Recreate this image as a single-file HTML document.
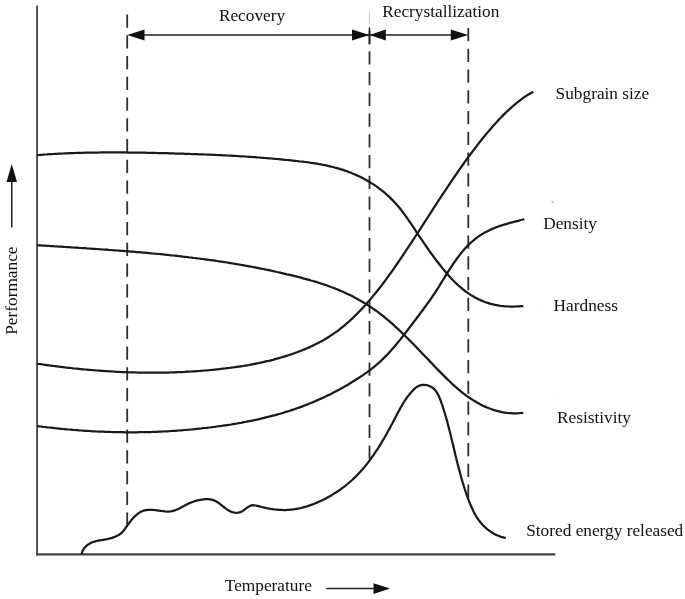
<!DOCTYPE html>
<html><head><meta charset="utf-8">
<style>
html,body{margin:0;padding:0;background:#fff;}
svg{display:block;}
text{font-family:"Liberation Serif",serif;font-size:17.3px;fill:#111;}
.ax{stroke:#3c3c3c;stroke-width:1.6;fill:none;}
.cv{stroke:#1a1a1a;stroke-width:2.25;fill:none;stroke-linecap:butt;stroke-linejoin:round;}
.ds{stroke:#2e2e2e;stroke-width:1.8;fill:none;stroke-dasharray:13.25 7.5;}
.ar{stroke:#222;stroke-width:1.5;fill:none;}
.hd{fill:#111;stroke:none;}
</style></head>
<body>
<svg width="685" height="599" viewBox="0 0 685 599">
<rect width="685" height="599" fill="#fff"/>
<!-- axes -->
<path d="M37.050 5.500V555.500" stroke="#3c3c3c" stroke-width="1.7" fill="none"/>
<path d="M36.200 554.400H555.300" stroke="#404040" stroke-width="2.3" fill="none"/>
<!-- dashed guide lines -->
<path class="ds" d="M127.200 14.500V526.500"/>
<path class="ds" d="M369.500 30.500V460"/>
<path class="ds" d="M468.300 28V499"/>
<path d="M369.500 11.500V24" stroke="#cfcfcf" stroke-width="1.2" fill="none"/>
<path class="ar" d="M369.500 27.500V44.500"/>
<!-- range arrows -->
<path class="ar" d="M140 35H455"/>
<path class="hd" d="M127.200 35L144.500 29.500V40.500Z"/>
<path class="hd" d="M369.500 35L352 29.500V40.500Z"/>
<path class="hd" d="M369.500 35L385.800 29.500V40.500Z"/>
<path class="hd" d="M468.300 35L450.800 29.500V40.500Z"/>
<!-- curves -->
<path class="cv" d="M37.0 155.1L39.0 155.0L41.0 154.8L43.0 154.7L45.0 154.5L47.0 154.4L49.0 154.2L51.0 154.1L53.0 154.0L55.0 153.9L57.0 153.8L59.0 153.7L61.0 153.6L63.0 153.5L65.0 153.4L67.0 153.3L69.0 153.2L71.0 153.1L73.0 153.1L75.0 153.0L77.0 152.9L79.0 152.9L81.0 152.8L83.0 152.8L85.0 152.7L87.0 152.7L89.0 152.6L91.0 152.6L93.0 152.5L95.0 152.5L97.0 152.5L99.0 152.5L101.0 152.4L103.0 152.4L105.0 152.4L107.0 152.4L109.0 152.4L111.0 152.4L113.0 152.4L115.0 152.4L117.0 152.4L119.0 152.4L121.0 152.4L123.0 152.4L125.0 152.4L127.0 152.5L129.0 152.5L131.0 152.5L133.0 152.5L135.0 152.6L137.0 152.6L139.0 152.6L141.0 152.7L143.0 152.7L145.0 152.7L147.0 152.8L149.0 152.8L151.0 152.8L153.0 152.9L155.0 152.9L157.0 153.0L159.0 153.0L161.0 153.1L163.0 153.1L165.0 153.2L167.0 153.2L169.0 153.3L171.0 153.4L173.0 153.4L175.0 153.5L177.0 153.5L179.0 153.6L181.0 153.7L183.0 153.7L185.0 153.8L187.0 153.8L189.0 153.9L191.0 154.0L193.0 154.0L195.0 154.1L197.0 154.2L199.0 154.3L201.0 154.3L203.0 154.4L205.0 154.5L207.0 154.6L209.0 154.7L211.0 154.7L213.0 154.8L215.0 154.9L217.0 155.0L219.0 155.1L221.0 155.2L223.0 155.3L225.0 155.4L227.0 155.5L229.0 155.6L231.0 155.7L233.0 155.8L235.0 155.9L237.0 156.0L239.0 156.2L241.0 156.3L243.0 156.4L245.0 156.5L247.0 156.7L249.0 156.8L251.0 156.9L253.0 157.1L255.0 157.2L257.0 157.4L259.0 157.5L261.0 157.7L263.0 157.8L265.0 158.0L267.0 158.1L269.0 158.3L271.0 158.5L273.0 158.7L275.0 158.8L277.0 159.0L279.0 159.2L281.0 159.4L283.0 159.6L285.0 159.8L287.0 160.0L289.0 160.2L291.0 160.4L293.0 160.6L295.0 160.8L297.0 161.0L299.0 161.3L301.0 161.5L303.0 161.7L305.0 162.0L307.0 162.2L309.0 162.5L311.0 162.8L313.0 163.1L315.0 163.4L317.0 163.7L319.0 164.1L321.0 164.4L323.0 164.8L325.0 165.2L327.0 165.6L329.0 166.1L331.0 166.6L333.0 167.0L335.0 167.6L337.0 168.1L339.0 168.7L341.0 169.3L343.0 169.9L345.0 170.6L347.0 171.3L349.0 172.1L351.0 172.8L353.0 173.7L355.0 174.5L357.0 175.4L359.0 176.3L361.0 177.3L363.0 178.3L365.0 179.4L367.0 180.5L369.0 181.7L371.0 182.9L373.0 184.1L375.0 185.4L377.0 186.8L379.0 188.3L381.0 189.8L383.0 191.4L385.0 193.0L387.0 194.8L389.0 196.6L391.0 198.6L393.0 200.6L395.0 202.7L397.0 205.0L399.0 207.3L401.0 209.8L403.0 212.4L405.0 215.1L407.0 217.9L409.0 220.8L411.0 223.7L413.0 226.7L415.0 229.7L417.0 232.8L419.0 235.8L421.0 238.7L423.0 241.7L425.0 244.6L427.0 247.5L429.0 250.3L431.0 253.1L433.0 255.9L435.0 258.6L437.0 261.2L439.0 263.8L441.0 266.4L443.0 268.9L445.0 271.3L447.0 273.6L449.0 275.9L451.0 278.1L453.0 280.2L455.0 282.2L457.0 284.1L459.0 286.0L461.0 287.7L463.0 289.4L465.0 291.0L467.0 292.4L469.0 293.8L471.0 295.1L473.0 296.3L475.0 297.5L477.0 298.5L479.0 299.5L481.0 300.4L483.0 301.3L485.0 302.0L487.0 302.7L489.0 303.3L491.0 303.9L493.0 304.4L495.0 304.9L497.0 305.2L499.0 305.6L501.0 305.9L503.0 306.1L505.0 306.3L507.0 306.4L509.0 306.5L511.0 306.5L513.0 306.5L515.0 306.5L517.0 306.4L519.0 306.4L521.0 306.2L523.0 306.1L523.3 306.0"/>
<path class="cv" d="M37.0 245.2L39.0 245.3L41.0 245.4L43.0 245.6L45.0 245.7L47.0 245.8L49.0 245.9L51.0 246.1L53.0 246.2L55.0 246.3L57.0 246.4L59.0 246.6L61.0 246.7L63.0 246.8L65.0 247.0L67.0 247.1L69.0 247.2L71.0 247.3L73.0 247.5L75.0 247.6L77.0 247.7L79.0 247.9L81.0 248.0L83.0 248.1L85.0 248.2L87.0 248.4L89.0 248.5L91.0 248.6L93.0 248.8L95.0 248.9L97.0 249.0L99.0 249.2L101.0 249.3L103.0 249.5L105.0 249.6L107.0 249.7L109.0 249.9L111.0 250.0L113.0 250.2L115.0 250.3L117.0 250.5L119.0 250.6L121.0 250.8L123.0 250.9L125.0 251.1L127.0 251.2L129.0 251.4L131.0 251.6L133.0 251.7L135.0 251.9L137.0 252.1L139.0 252.2L141.0 252.4L143.0 252.6L145.0 252.7L147.0 252.9L149.0 253.1L151.0 253.3L153.0 253.5L155.0 253.7L157.0 253.8L159.0 254.0L161.0 254.2L163.0 254.4L165.0 254.6L167.0 254.8L169.0 255.0L171.0 255.3L173.0 255.5L175.0 255.7L177.0 255.9L179.0 256.1L181.0 256.3L183.0 256.6L185.0 256.8L187.0 257.0L189.0 257.3L191.0 257.5L193.0 257.8L195.0 258.0L197.0 258.3L199.0 258.5L201.0 258.8L203.0 259.0L205.0 259.3L207.0 259.6L209.0 259.9L211.0 260.1L213.0 260.4L215.0 260.7L217.0 261.0L219.0 261.3L221.0 261.6L223.0 261.9L225.0 262.2L227.0 262.5L229.0 262.8L231.0 263.2L233.0 263.5L235.0 263.8L237.0 264.2L239.0 264.5L241.0 264.9L243.0 265.2L245.0 265.6L247.0 265.9L249.0 266.3L251.0 266.7L253.0 267.0L255.0 267.4L257.0 267.8L259.0 268.2L261.0 268.6L263.0 269.0L265.0 269.4L267.0 269.8L269.0 270.2L271.0 270.7L273.0 271.1L275.0 271.5L277.0 272.0L279.0 272.4L281.0 272.9L283.0 273.3L285.0 273.8L287.0 274.3L289.0 274.7L291.0 275.2L293.0 275.7L295.0 276.2L297.0 276.7L299.0 277.2L301.0 277.7L303.0 278.3L305.0 278.8L307.0 279.3L309.0 279.9L311.0 280.5L313.0 281.0L315.0 281.6L317.0 282.2L319.0 282.9L321.0 283.5L323.0 284.2L325.0 284.8L327.0 285.5L329.0 286.2L331.0 287.0L333.0 287.7L335.0 288.5L337.0 289.3L339.0 290.1L341.0 291.0L343.0 291.8L345.0 292.7L347.0 293.7L349.0 294.6L351.0 295.6L353.0 296.6L355.0 297.7L357.0 298.7L359.0 299.9L361.0 301.0L363.0 302.2L365.0 303.4L367.0 304.6L369.0 305.9L371.0 307.2L373.0 308.6L375.0 310.0L377.0 311.4L379.0 312.9L381.0 314.4L383.0 316.0L385.0 317.6L387.0 319.3L389.0 320.9L391.0 322.7L393.0 324.4L395.0 326.3L397.0 328.1L399.0 330.0L401.0 331.9L403.0 333.8L405.0 335.8L407.0 337.7L409.0 339.7L411.0 341.8L413.0 343.8L415.0 345.8L417.0 347.9L419.0 350.0L421.0 352.1L423.0 354.2L425.0 356.3L427.0 358.3L429.0 360.4L431.0 362.5L433.0 364.6L435.0 366.7L437.0 368.8L439.0 370.9L441.0 372.9L443.0 374.9L445.0 376.9L447.0 378.9L449.0 380.8L451.0 382.7L453.0 384.6L455.0 386.4L457.0 388.1L459.0 389.8L461.0 391.5L463.0 393.1L465.0 394.6L467.0 396.1L469.0 397.5L471.0 398.8L473.0 400.1L475.0 401.3L477.0 402.5L479.0 403.6L481.0 404.7L483.0 405.7L485.0 406.6L487.0 407.5L489.0 408.3L491.0 409.0L493.0 409.7L495.0 410.4L497.0 410.9L499.0 411.4L501.0 411.9L503.0 412.3L505.0 412.6L507.0 412.9L509.0 413.1L511.0 413.2L513.0 413.3L515.0 413.3L517.0 413.3L519.0 413.2L521.0 413.0L523.0 412.8L523.3 412.7"/>
<path class="cv" d="M37.0 363.7L39.0 364.0L41.0 364.2L43.0 364.5L45.0 364.8L47.0 365.1L49.0 365.4L51.0 365.6L53.0 365.9L55.0 366.1L57.0 366.4L59.0 366.7L61.0 366.9L63.0 367.1L65.0 367.4L67.0 367.6L69.0 367.8L71.0 368.0L73.0 368.3L75.0 368.5L77.0 368.7L79.0 368.9L81.0 369.1L83.0 369.3L85.0 369.5L87.0 369.6L89.0 369.8L91.0 370.0L93.0 370.2L95.0 370.3L97.0 370.5L99.0 370.6L101.0 370.8L103.0 370.9L105.0 371.1L107.0 371.2L109.0 371.3L111.0 371.4L113.0 371.5L115.0 371.7L117.0 371.8L119.0 371.9L121.0 372.0L123.0 372.0L125.0 372.1L127.0 372.2L129.0 372.3L131.0 372.3L133.0 372.4L135.0 372.4L137.0 372.5L139.0 372.5L141.0 372.6L143.0 372.6L145.0 372.6L147.0 372.6L149.0 372.7L151.0 372.7L153.0 372.7L155.0 372.7L157.0 372.7L159.0 372.6L161.0 372.6L163.0 372.6L165.0 372.6L167.0 372.5L169.0 372.5L171.0 372.4L173.0 372.3L175.0 372.3L177.0 372.2L179.0 372.1L181.0 372.0L183.0 372.0L185.0 371.9L187.0 371.7L189.0 371.6L191.0 371.5L193.0 371.4L195.0 371.3L197.0 371.1L199.0 371.0L201.0 370.8L203.0 370.7L205.0 370.5L207.0 370.3L209.0 370.2L211.0 370.0L213.0 369.8L215.0 369.6L217.0 369.4L219.0 369.2L221.0 368.9L223.0 368.7L225.0 368.5L227.0 368.2L229.0 368.0L231.0 367.7L233.0 367.5L235.0 367.2L237.0 366.9L239.0 366.6L241.0 366.3L243.0 366.0L245.0 365.7L247.0 365.3L249.0 365.0L251.0 364.6L253.0 364.2L255.0 363.8L257.0 363.4L259.0 363.0L261.0 362.6L263.0 362.2L265.0 361.7L267.0 361.2L269.0 360.8L271.0 360.3L273.0 359.8L275.0 359.2L277.0 358.7L279.0 358.1L281.0 357.5L283.0 356.9L285.0 356.3L287.0 355.7L289.0 355.0L291.0 354.4L293.0 353.7L295.0 353.0L297.0 352.3L299.0 351.5L301.0 350.7L303.0 349.9L305.0 349.1L307.0 348.3L309.0 347.4L311.0 346.5L313.0 345.6L315.0 344.6L317.0 343.6L319.0 342.6L321.0 341.5L323.0 340.4L325.0 339.2L327.0 338.0L329.0 336.7L331.0 335.4L333.0 334.1L335.0 332.7L337.0 331.3L339.0 329.8L341.0 328.2L343.0 326.6L345.0 325.0L347.0 323.2L349.0 321.5L351.0 319.6L353.0 317.8L355.0 315.8L357.0 313.9L359.0 311.8L361.0 309.7L363.0 307.6L365.0 305.4L367.0 303.1L369.0 300.9L371.0 298.5L373.0 296.1L375.0 293.7L377.0 291.2L379.0 288.7L381.0 286.1L383.0 283.5L385.0 280.8L387.0 278.1L389.0 275.4L391.0 272.6L393.0 269.8L395.0 266.9L397.0 264.0L399.0 261.1L401.0 258.2L403.0 255.2L405.0 252.2L407.0 249.2L409.0 246.2L411.0 243.2L413.0 240.1L415.0 237.0L417.0 234.0L419.0 230.9L421.0 227.8L423.0 224.7L425.0 221.6L427.0 218.5L429.0 215.4L431.0 212.3L433.0 209.2L435.0 206.1L437.0 203.0L439.0 199.9L441.0 196.9L443.0 193.9L445.0 190.8L447.0 187.8L449.0 184.8L451.0 181.9L453.0 178.9L455.0 176.0L457.0 173.1L459.0 170.2L461.0 167.4L463.0 164.5L465.0 161.7L467.0 158.9L469.0 156.2L471.0 153.5L473.0 150.8L475.0 148.2L477.0 145.6L479.0 143.0L481.0 140.5L483.0 138.0L485.0 135.5L487.0 133.1L489.0 130.7L491.0 128.4L493.0 126.1L495.0 123.9L497.0 121.7L499.0 119.5L501.0 117.5L503.0 115.4L505.0 113.4L507.0 111.5L509.0 109.6L511.0 107.8L513.0 106.0L515.0 104.3L517.0 102.7L519.0 101.1L521.0 99.6L523.0 98.1L525.0 96.7L527.0 95.4L529.0 94.2L531.0 93.0L533.0 91.9L533.3 91.7"/>
<path class="cv" d="M37.0 426.0L39.0 426.3L41.0 426.5L43.0 426.8L45.0 427.0L47.0 427.3L49.0 427.5L51.0 427.7L53.0 427.9L55.0 428.2L57.0 428.4L59.0 428.6L61.0 428.8L63.0 429.0L65.0 429.2L67.0 429.4L69.0 429.5L71.0 429.7L73.0 429.9L75.0 430.0L77.0 430.2L79.0 430.4L81.0 430.5L83.0 430.6L85.0 430.8L87.0 430.9L89.0 431.0L91.0 431.1L93.0 431.3L95.0 431.4L97.0 431.5L99.0 431.6L101.0 431.7L103.0 431.7L105.0 431.8L107.0 431.9L109.0 431.9L111.0 432.0L113.0 432.1L115.0 432.1L117.0 432.2L119.0 432.2L121.0 432.2L123.0 432.2L125.0 432.3L127.0 432.3L129.0 432.3L131.0 432.3L133.0 432.3L135.0 432.3L137.0 432.3L139.0 432.2L141.0 432.2L143.0 432.2L145.0 432.1L147.0 432.1L149.0 432.0L151.0 432.0L153.0 431.9L155.0 431.8L157.0 431.8L159.0 431.7L161.0 431.6L163.0 431.5L165.0 431.4L167.0 431.3L169.0 431.2L171.0 431.0L173.0 430.9L175.0 430.8L177.0 430.6L179.0 430.5L181.0 430.3L183.0 430.2L185.0 430.0L187.0 429.8L189.0 429.7L191.0 429.5L193.0 429.3L195.0 429.1L197.0 428.9L199.0 428.7L201.0 428.5L203.0 428.2L205.0 428.0L207.0 427.8L209.0 427.5L211.0 427.3L213.0 427.0L215.0 426.8L217.0 426.5L219.0 426.2L221.0 426.0L223.0 425.7L225.0 425.4L227.0 425.1L229.0 424.8L231.0 424.5L233.0 424.1L235.0 423.8L237.0 423.5L239.0 423.1L241.0 422.8L243.0 422.4L245.0 422.0L247.0 421.6L249.0 421.2L251.0 420.8L253.0 420.4L255.0 420.0L257.0 419.6L259.0 419.1L261.0 418.7L263.0 418.2L265.0 417.7L267.0 417.2L269.0 416.7L271.0 416.2L273.0 415.7L275.0 415.2L277.0 414.6L279.0 414.0L281.0 413.5L283.0 412.9L285.0 412.2L287.0 411.6L289.0 411.0L291.0 410.3L293.0 409.7L295.0 409.0L297.0 408.3L299.0 407.6L301.0 406.9L303.0 406.1L305.0 405.3L307.0 404.6L309.0 403.8L311.0 403.0L313.0 402.1L315.0 401.3L317.0 400.4L319.0 399.5L321.0 398.6L323.0 397.7L325.0 396.8L327.0 395.8L329.0 394.9L331.0 393.9L333.0 392.8L335.0 391.8L337.0 390.7L339.0 389.7L341.0 388.6L343.0 387.5L345.0 386.3L347.0 385.2L349.0 384.0L351.0 382.8L353.0 381.5L355.0 380.3L357.0 379.0L359.0 377.7L361.0 376.4L363.0 375.1L365.0 373.7L367.0 372.3L369.0 370.8L371.0 369.3L373.0 367.7L375.0 366.1L377.0 364.4L379.0 362.6L381.0 360.8L383.0 358.9L385.0 356.9L387.0 354.9L389.0 352.7L391.0 350.5L393.0 348.2L395.0 345.9L397.0 343.5L399.0 341.1L401.0 338.6L403.0 336.0L405.0 333.5L407.0 330.9L409.0 328.3L411.0 325.6L413.0 323.0L415.0 320.3L417.0 317.7L419.0 315.0L421.0 312.3L423.0 309.7L425.0 307.0L427.0 304.2L429.0 301.5L431.0 298.6L433.0 295.7L435.0 292.7L437.0 289.6L439.0 286.5L441.0 283.2L443.0 280.0L445.0 276.7L447.0 273.4L449.0 270.3L451.0 267.2L453.0 264.2L455.0 261.3L457.0 258.5L459.0 255.9L461.0 253.3L463.0 250.9L465.0 248.6L467.0 246.4L469.0 244.4L471.0 242.5L473.0 240.8L475.0 239.1L477.0 237.6L479.0 236.2L481.0 234.8L483.0 233.6L485.0 232.4L487.0 231.4L489.0 230.4L491.0 229.4L493.0 228.6L495.0 227.8L497.0 227.0L499.0 226.3L501.0 225.6L503.0 225.0L505.0 224.4L507.0 223.8L509.0 223.2L511.0 222.7L513.0 222.2L515.0 221.6L517.0 221.1L519.0 220.6L521.0 220.0L523.0 219.5L524.3 219.1"/>
<path class="cv" d="M81.6 554.2L82.0 552.6L82.5 551.2L83.2 549.8L84.0 548.5L85.0 547.3L86.0 546.2L87.2 545.2L88.4 544.4L89.7 543.6L91.0 542.9L92.4 542.3L93.8 541.8L95.2 541.4L96.7 541.0L98.2 540.7L99.7 540.4L101.2 540.1L102.8 539.9L104.3 539.6L105.9 539.3L107.4 539.0L108.9 538.7L110.4 538.3L111.9 537.9L113.4 537.4L114.8 536.9L116.2 536.3L117.6 535.6L118.9 534.9L120.1 534.0L121.3 533.1L122.3 532.1L123.3 531.0L124.2 529.9L125.1 528.7L126.0 527.4L126.8 526.2L127.8 524.9L128.7 523.6L129.6 522.3L130.6 521.1L131.6 519.8L132.6 518.6L133.7 517.5L134.8 516.3L135.9 515.3L137.1 514.3L138.3 513.4L139.5 512.6L140.8 511.8L142.1 511.2L143.4 510.7L144.8 510.3L146.3 510.1L147.8 509.9L149.3 509.8L150.8 509.8L152.4 509.9L154.0 510.0L155.5 510.2L157.1 510.4L158.7 510.6L160.3 510.8L161.8 511.0L163.3 511.2L164.9 511.4L166.4 511.5L167.8 511.5L169.3 511.5L170.8 511.3L172.2 511.1L173.6 510.7L175.1 510.3L176.5 509.7L177.9 509.1L179.3 508.4L180.6 507.7L182.0 507.0L183.4 506.2L184.8 505.4L186.2 504.7L187.6 504.0L189.0 503.4L190.4 502.8L191.8 502.2L193.2 501.7L194.6 501.2L196.1 500.8L197.5 500.4L199.0 500.1L200.5 499.8L202.0 499.6L203.6 499.4L205.1 499.2L206.7 499.2L208.2 499.2L209.7 499.3L211.2 499.6L212.7 499.9L214.1 500.4L215.5 501.1L216.8 501.8L218.1 502.6L219.4 503.5L220.6 504.5L221.9 505.5L223.1 506.5L224.4 507.5L225.6 508.4L226.9 509.3L228.2 510.2L229.5 510.9L230.8 511.6L232.2 512.1L233.6 512.5L235.0 512.7L236.5 512.8L237.9 512.7L239.4 512.4L240.8 511.9L242.2 511.2L243.5 510.4L244.9 509.4L246.2 508.4L247.5 507.4L248.8 506.6L250.1 505.9L251.5 505.4L252.9 505.2L254.3 505.3L255.8 505.5L257.2 505.8L258.7 506.2L260.2 506.6L261.7 507.0L263.2 507.4L264.7 507.7L266.2 508.0L267.7 508.3L269.2 508.6L270.7 508.9L272.2 509.1L273.7 509.3L275.3 509.5L276.8 509.6L278.3 509.8L279.8 509.9L281.3 509.9L282.9 510.0L284.4 510.0L285.9 510.0L287.4 509.9L288.9 509.8L290.4 509.7L291.9 509.6L293.4 509.4L294.9 509.2L296.4 508.9L297.9 508.6L299.4 508.3L300.9 508.0L302.4 507.6L303.9 507.2L305.4 506.8L306.8 506.4L308.3 505.9L309.7 505.4L311.2 504.9L312.6 504.4L314.1 503.8L315.5 503.2L316.9 502.6L318.3 502.0L319.7 501.4L321.1 500.7L322.5 500.1L323.9 499.4L325.3 498.7L326.6 498.0L328.0 497.2L329.3 496.5L330.6 495.7L332.0 494.9L333.3 494.1L334.6 493.3L335.9 492.5L337.1 491.7L338.4 490.8L339.7 490.0L340.9 489.1L342.1 488.2L343.4 487.3L344.6 486.3L345.8 485.4L346.9 484.5L348.1 483.5L349.3 482.5L350.4 481.5L351.6 480.5L352.7 479.5L353.8 478.4L354.9 477.4L356.0 476.3L357.0 475.2L358.1 474.2L359.1 473.0L360.2 471.9L361.2 470.8L362.2 469.7L363.2 468.5L364.2 467.4L365.1 466.2L366.1 465.0L367.1 463.8L368.0 462.6L368.9 461.4L369.8 460.2L370.8 458.9L371.6 457.7L372.5 456.4L373.4 455.2L374.3 453.9L375.1 452.7L376.0 451.4L376.8 450.1L377.7 448.8L378.5 447.5L379.3 446.2L380.1 444.9L380.9 443.6L381.7 442.3L382.5 440.9L383.3 439.6L384.1 438.3L384.9 436.9L385.6 435.6L386.4 434.3L387.1 432.9L387.9 431.6L388.6 430.2L389.4 428.9L390.1 427.5L390.8 426.2L391.5 424.8L392.3 423.5L393.0 422.1L393.7 420.8L394.4 419.4L395.1 418.0L395.8 416.7L396.5 415.3L397.2 414.0L397.9 412.6L398.6 411.3L399.4 410.0L400.1 408.6L400.8 407.3L401.6 406.0L402.3 404.7L403.1 403.4L403.9 402.1L404.7 400.8L405.6 399.6L406.4 398.3L407.3 397.1L408.2 395.9L409.2 394.7L410.1 393.5L411.2 392.3L412.2 391.1L413.3 390.0L414.4 388.9L415.5 387.8L416.8 386.9L418.1 386.2L419.5 385.6L420.9 385.1L422.5 384.9L424.0 384.9L425.6 385.0L427.1 385.2L428.6 385.7L430.0 386.2L431.4 386.9L432.6 387.7L433.7 388.7L434.8 389.7L435.7 390.8L436.6 392.1L437.4 393.3L438.1 394.7L438.8 396.1L439.4 397.5L440.0 399.0L440.6 400.5L441.1 401.9L441.6 403.4L442.2 404.9L442.7 406.4L443.1 407.9L443.6 409.3L444.1 410.8L444.5 412.3L445.0 413.7L445.4 415.2L445.8 416.7L446.3 418.1L446.7 419.6L447.1 421.1L447.5 422.5L447.8 424.0L448.2 425.5L448.6 426.9L449.0 428.4L449.4 429.9L449.7 431.3L450.1 432.8L450.5 434.3L450.8 435.8L451.2 437.2L451.5 438.7L451.9 440.2L452.2 441.7L452.6 443.2L453.0 444.6L453.3 446.1L453.7 447.6L454.0 449.1L454.4 450.6L454.7 452.1L455.1 453.6L455.4 455.0L455.8 456.5L456.2 458.0L456.5 459.5L456.9 461.0L457.3 462.5L457.6 464.0L458.0 465.4L458.4 466.9L458.8 468.4L459.2 469.9L459.6 471.4L460.0 472.8L460.4 474.3L460.8 475.8L461.2 477.3L461.6 478.7L462.0 480.2L462.5 481.7L462.9 483.1L463.4 484.6L463.8 486.1L464.3 487.5L464.7 489.0L465.2 490.5L465.7 491.9L466.2 493.4L466.7 494.8L467.2 496.2L467.7 497.7L468.3 499.1L468.8 500.6L469.4 502.0L469.9 503.4L470.5 504.8L471.1 506.2L471.7 507.6L472.4 509.0L473.0 510.4L473.7 511.8L474.4 513.1L475.2 514.5L475.9 515.8L476.7 517.1L477.5 518.3L478.4 519.6L479.3 520.8L480.2 522.0L481.2 523.2L482.2 524.3L483.2 525.4L484.3 526.5L485.5 527.6L486.6 528.6L487.8 529.6L489.0 530.5L490.3 531.4L491.6 532.3L492.9 533.1L494.3 533.9L495.6 534.6L497.0 535.2L498.4 535.8L499.9 536.4L501.3 536.9L502.8 537.3L504.3 537.7L505.8 538.0"/>
<path d="M551.500 201.800L554 202.300" stroke="#8a8a8a" stroke-width="0.9" fill="none"/>
<path d="M539.700 304.200h1" stroke="#ddd" stroke-width="0.8" fill="none"/>
<path d="M557 396h1" stroke="#ddd" stroke-width="0.8" fill="none"/>
<!-- labels -->
<text x="218.900" y="21.400">Recovery</text>
<text x="382.200" y="17.100">Recrystallization</text>
<text x="555.600" y="98.500">Subgrain size</text>
<text x="543.200" y="228.600">Density</text>
<text x="553.600" y="311.200">Hardness</text>
<text x="557" y="422.900">Resistivity</text>
<text x="526.200" y="535.800">Stored energy released</text>
<text x="224.800" y="591.400">Temperature</text>
<text transform="translate(17,334.800) rotate(-90)">Performance</text>
<!-- axis arrows -->
<path class="ar" d="M11.750 227.500V178"/>
<path class="hd" d="M11.750 164L6.500 182H17Z"/>
<path class="ar" d="M326.200 588.600H378"/>
<path class="hd" d="M390.100 588.600L373.500 583.200V594Z"/>
</svg>
</body></html>
